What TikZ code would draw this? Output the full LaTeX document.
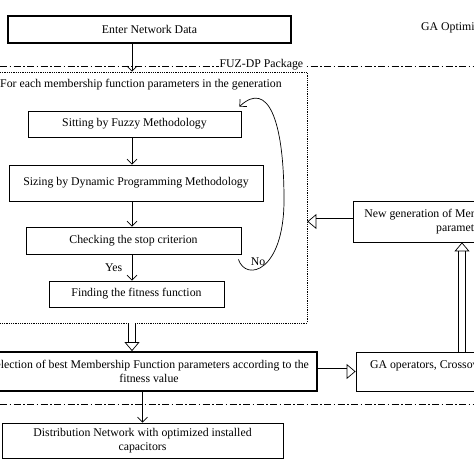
\documentclass[tikz,border=0pt]{standalone}
\usepackage{fontspec}
\setmainfont{Liberation Serif}
\usetikzlibrary{arrows.meta, calc, positioning}

\begin{document}
\begin{tikzpicture}[x=1pt, y=-1pt,
    font=\fontsize{11.8}{13.5}\selectfont,
    box/.style={draw, rectangle, inner sep=0pt, align=center, line width=0.8pt},
    heavybox/.style={box, line width=1.8pt},
    flow/.style={line width=0.7pt, -{Straight Barb[length=5pt, width=10pt]}},
    hollow/.style={double, double distance=6pt, line width=0.7pt,
        -{Triangle[open, length=9pt, width=15pt, line width=0.7pt]}},
    dashdot/.style={line width=0.7pt, dash pattern=on 7pt off 2.5pt on 1.5pt off 2.5pt}]
    \path[use as bounding box, clip] (0,0) rectangle (474,474);

    \node[heavybox, minimum width=283, minimum height=27] (enter) at (149.5,29.5) {Enter Network Data};
    \node[anchor=west, inner sep=0pt] (gaopt) at (421,28) {GA Optimization};
    \draw[dashdot] (0,66) -- (474,66);

    % FUZ-DP package
    \node[draw, densely dotted, line width=0.8pt, minimum width=314, minimum height=251] (fuz) at (150,197.5) {};
    \node[anchor=south east, inner sep=1pt, fill=white] (fuzlabel) at ($(fuz.north east)+(-3,0)$) {FUZ-DP Package};
    \node[anchor=west, inner sep=0pt] (foreach) at (0,85) {For each membership function parameters in the generation};
    \coordinate (col) at (132,0);

    \node[box, minimum width=213, minimum height=26] (sitting) at (134.5,124) {Sitting by Fuzzy Methodology};
    \node[box, minimum width=254, minimum height=36] (sizing) at (136,183) {Sizing by Dynamic Programming Methodology};
    \node[box, minimum width=215, minimum height=27] (checking) at (133.5,240.5) {Checking the stop criterion};
    \node[box, minimum width=175, minimum height=26] (finding) at (136.5,294) {Finding the fitness function};
    \node (no) at (258,262) {No};

    \draw[flow] (enter.south -| col) -- (fuz.north -| col);
    \draw[flow] (sitting.south -| col) -- (sizing.north -| col);
    \draw[flow] (sizing.south -| col) -- (checking.north -| col);
    \draw[flow] (checking.south -| col) -- node[left=6pt, midway] {Yes} (finding.north -| col);
    \draw[flow] ($(checking.south east)+(-3,5)$) .. controls (246,282) and (284,272) .. (284,200)
        .. controls (284,120) and (268,80) .. ($(sitting.north east)+(-2,-4)$);

    % GA loop
    \node[box, minimum width=218, minimum height=41] (newgen) at (462,221.5) {New generation of Membership Function\\parameters};
    \node[heavybox, minimum width=336, minimum height=39] (select) at (149,371.5) {Selection of best Membership Function parameters according to the\\fitness value};
    \node[box, minimum width=212, minimum height=39] (gaop) at (462,371.5) {GA operators, Crossover and Mutation\\\mbox{}};
    \draw[hollow] (newgen.west) -- (newgen.west -| fuz.east);
    \draw[hollow] (fuz.south -| col) -- (select.north -| col);
    \draw[hollow] (select.east) -- (gaop.west);
    \draw[hollow] (gaop.north) -- (newgen.south);

    \draw[dashdot] (0,404) -- (474,404);
    \node[box, minimum width=281, minimum height=35] (distr) at (142.5,440.5) {Distribution Network with optimized installed\\capacitors};
    \draw[flow] (select.south -| distr) -- (distr.north);
\end{tikzpicture}
\end{document}
